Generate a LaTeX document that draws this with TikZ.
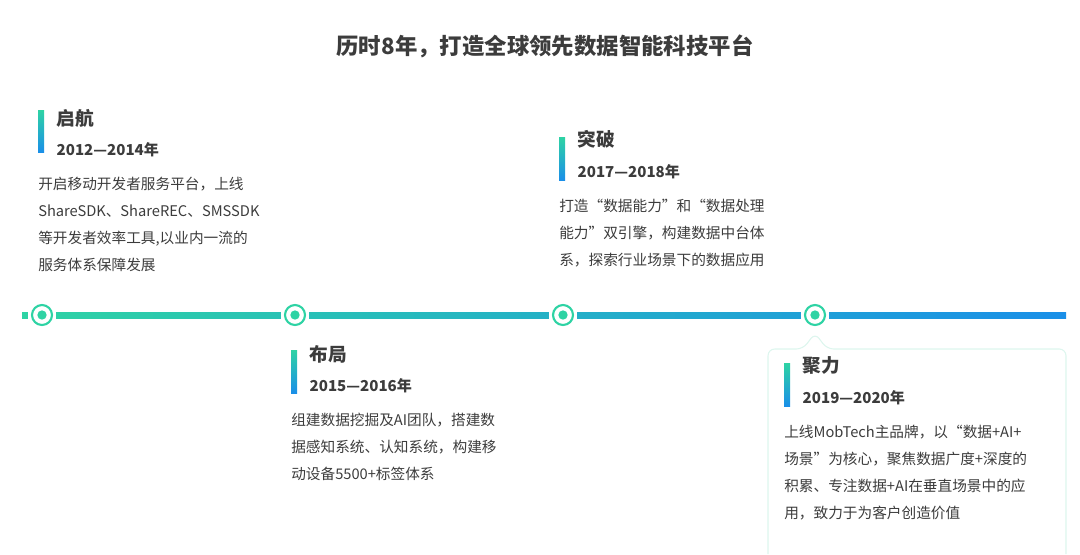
\documentclass[tikz,border=0pt]{standalone}
\usepackage{fontspec}
\setmainfont{Noto Sans CJK SC}
\usetikzlibrary{shadings}
\definecolor{gA}{HTML}{2ED3A4}
\definecolor{bB}{HTML}{1A8FE8}
\definecolor{txt}{HTML}{3C3C3C}
\definecolor{cardline}{HTML}{DDF6EE}
\tikzset{
 title/.style={font=\bfseries\fontsize{16.8}{20}\selectfont,text=txt,anchor=center},
 head/.style={font=\bfseries\fontsize{14}{16}\selectfont,text=txt,anchor=west},
 year/.style={font=\bfseries\fontsize{11.3}{13}\selectfont,text=txt,anchor=west},
 body/.style={font=\fontsize{11}{20.25}\selectfont,text=txt,anchor=north west,align=left,inner sep=0pt},
 bar/.style={top color=gA,bottom color=bB,draw=none},
 ring/.style={circle,draw=gA,line width=1.6pt,fill=white,minimum size=15pt,inner sep=0pt},
 dot/.style={circle,fill=gA,minimum size=7pt,inner sep=0pt}
}
\begin{document}
\begin{tikzpicture}[x=0.75pt,y=-0.75pt]
\useasboundingbox (0,0) rectangle (1080,554);
\node[title] (t) at (545,46) {历时8年，打造全球领先数据智能科技平台};
\shade[left color=gA,right color=bB] (22,312) rectangle (1066,318);
\foreach \x/\n in {42/m1,295/m2,563/m3,815/m4}{
 \fill[white] (\x-14,310) rectangle (\x+14,320);
 \node[ring] (\n) at (\x,315) {};
 \node[dot] at (\x,315) {};
}
\draw[cardline,line width=0.8pt,fill=white,rounded corners=5pt]
 (768,554) -- (768,349) -- (803,349) -- (815,333) -- (827,349) -- (1066,349) -- (1066,554);
\shade[bar] (38,110) rectangle (44,152);
\node[head] (h1) at (52,118) {启航};
\node[year] (y1) at (52,150) {2012—2014年};
\node[body] (b1) at (38,177) {开启移动开发者服务平台，上线\\ShareSDK、ShareREC、SMSSDK\\等开发者效率工具,以业内一流的\\服务体系保障发展};
\shade[bar] (291,350) rectangle (297,393);
\node[head] (h2) at (305,354) {布局};
\node[year] (y2) at (305,386) {2015—2016年};
\node[body] (b2) at (291,413) {组建数据挖掘及AI团队，搭建数\\据感知系统、认知系统，构建移\\动设备5500+标签体系};
\shade[bar] (559,137) rectangle (565,180);
\node[head] (h3) at (573,139) {突破};
\node[year] (y3) at (573,172) {2017—2018年};
\node[body] (b3) at (559,199) {打造“数据能力”和“数据处理\\能力”双引擎，构建数据中台体\\系，探索行业场景下的数据应用};
\shade[bar] (784,363) rectangle (790,406);
\node[head] (h4) at (798,365) {聚力};
\node[year] (y4) at (798,398) {2019—2020年};
\node[body] (b4) at (784,425) {上线MobTech主品牌，以“数据+AI+\\场景”为核心，聚焦数据广度+深度的\\积累、专注数据+AI在垂直场景中的应\\用，致力于为客户创造价值};
\end{tikzpicture}
\end{document}
